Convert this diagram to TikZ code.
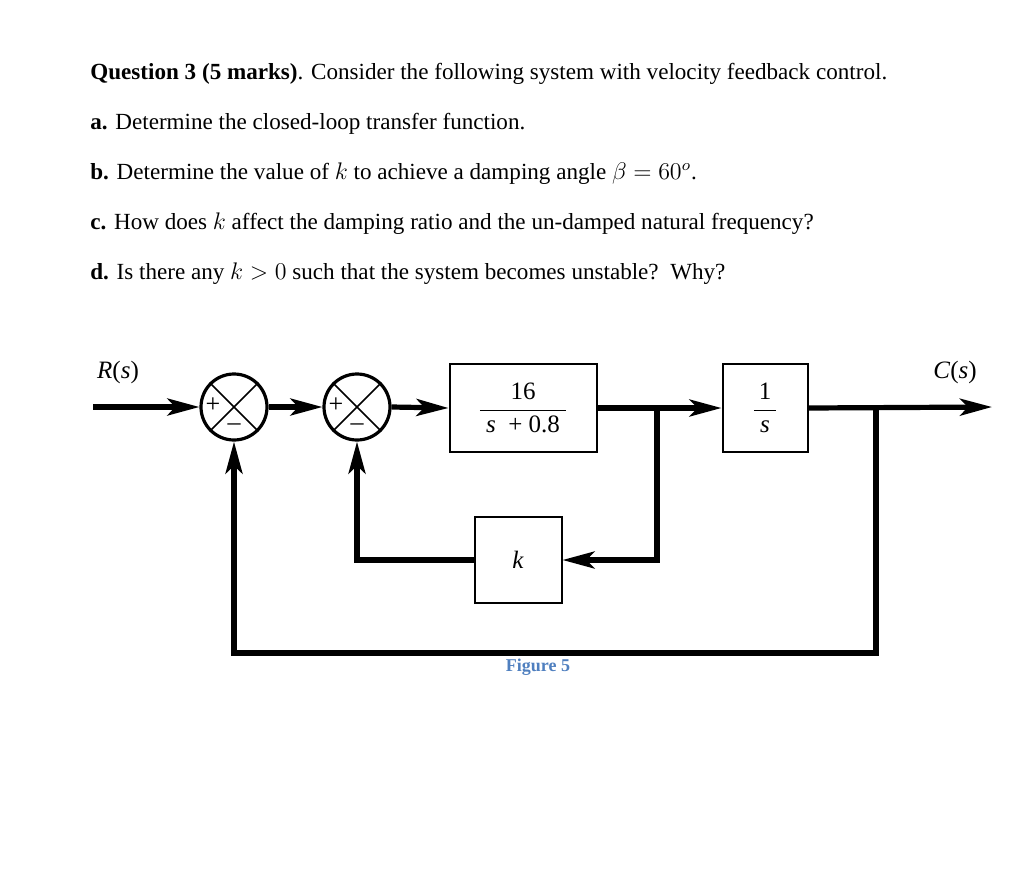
\documentclass[tikz,border=0pt]{standalone}
\usepackage{fontspec}
\setmainfont{Liberation Serif}
\usepackage{amsmath}
\usetikzlibrary{positioning, arrows.meta, calc}
\definecolor{figblue}{HTML}{4F7FBF}

\tikzset{
  sumnode/.style={circle, draw, line width=1.6pt, minimum size=33pt, inner sep=0pt},
  tfblock/.style={draw, line width=1pt, inner sep=0pt, font=\fontsize{12.5}{15}\selectfont},
  sigline/.style={line width=2.6pt, -{Stealth[length=16pt, width=8.5pt, inset=4pt]}},
  sigwire/.style={line width=2.6pt},
  qline/.style={anchor=base west, inner sep=0pt, font=\fontsize{11.55}{14}\selectfont},
}

\begin{document}
\begin{tikzpicture}[x=0.5pt, y=-0.5pt]
  \useasboundingbox (0,0) rectangle (1024,890);
  % question text
  \node[qline] (q0) at (90,79) {\textbf{Question 3 (5 marks)}. Consider the following system with velocity feedback control.};
  \node[qline] (qa) at (90,129) {\textbf{a.} Determine the closed-loop transfer function.};
  \node[qline] (qb) at (90,179) {\textbf{b.} Determine the value of $k$ to achieve a damping angle $\beta = 60^{o}$.};
  \node[qline] (qc) at (90,229) {\textbf{c.} How does $k$ affect the damping ratio and the un-damped natural frequency?};
  \node[qline] (qd) at (90,279) {\textbf{d.} Is there any $k > 0$ such that the system becomes unstable?\ \ Why?};

  % blocks and summing points
  \node[sumnode] (s1) at (234,407) {};
  \node[sumnode] (s2) at (357,407) {};
  \node[tfblock, minimum width=73.5pt, minimum height=44pt] (g1) at (523,408)
    {$\dfrac{\text{16}}{\ \textit{s}\ \ \text{+ 0.8}\ }$};
  \node[tfblock, minimum width=42.5pt, minimum height=44pt] (g2) at (765,408)
    {$\dfrac{\text{1}}{\ \textit{s}\ }$};
  \node[tfblock, minimum width=43.5pt, minimum height=43pt] (k) at (518,560)
    {\textit{k}};

  \foreach \s in {s1, s2} {
    \draw[line width=0.8pt] (\s.north west) -- (\s.south east);
    \draw[line width=0.8pt] (\s.north east) -- (\s.south west);
    \node[font=\fontsize{13}{15}\selectfont, inner sep=0pt] at ($(\s.center)+(-21,-2)$) {+};
    \node[font=\fontsize{13}{15}\selectfont, inner sep=0pt] at ($(\s.center)+(0,20)$) {--};
  }

  % signal labels
  \node[font=\fontsize{12.5}{15}\selectfont] (rlab) at (118,372) {\textit{R}(\textit{s})};
  \node[font=\fontsize{12.5}{15}\selectfont] (clab) at (955,372) {\textit{C}(\textit{s})};

  \coordinate (in) at (93,407);
  \coordinate (out) at (992,407);
  \coordinate (b1) at (657,407);
  \coordinate (b2) at (876,407);
  \coordinate (bot) at (876,653);

  % forward path
  \draw[sigline] (in) -- (s1.west);
  \draw[sigline] (s1.east) -- (s2.west);
  \draw[sigline] (s2.east) -- (g1.west);
  \draw[sigline] (g1.east) -- (g2.west);
  \draw[sigline] (g2.east) -- (out);

  % feedback paths
  \draw[sigline] (b1) |- (k.east);
  \draw[sigline] (k.west) -| (s2.south);
  \draw[sigline] (b2) -- (bot) -| (s1.south);

  \node[font=\bfseries\fontsize{9}{11}\selectfont, text=figblue] (fig) at (538,667) {Figure 5};
\end{tikzpicture}
\end{document}
